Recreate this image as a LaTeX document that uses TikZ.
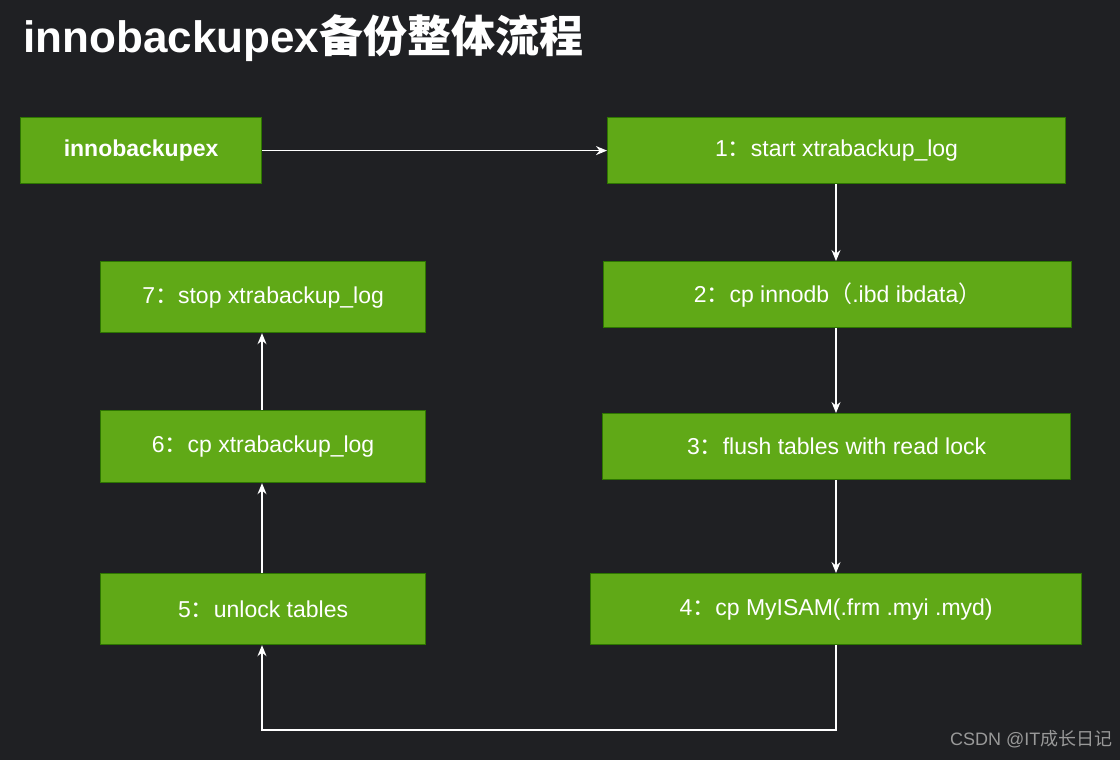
\documentclass[tikz,border=0pt]{standalone}
\usepackage{fontspec}
\setmainfont{Liberation Sans}
\newfontfamily\cjk{Noto Sans CJK SC}
\usetikzlibrary{arrows.meta}
\definecolor{bg}{HTML}{1F2023}
\definecolor{boxfill}{HTML}{60A917}
\definecolor{boxline}{HTML}{2D7600}
\begin{document}
\begin{tikzpicture}[x=1pt,y=-1pt,
  stepbox/.style={draw=boxline,line width=1.2pt,fill=boxfill,text=white,font=\fontsize{23}{27}\selectfont,anchor=north west,inner sep=0pt,align=center},
  conn/.style={draw=white,line width=1.3pt,-{Stealth[length=11pt,width=9pt]}}]
\fill[bg] (0,0) rectangle (1120,760);
\useasboundingbox (0,0) rectangle (1120,760);
\node[anchor=west,text=white,font=\fontsize{44}{50}\selectfont\bfseries] (title) at (20,38) {innobackupex{\cjk 备份整体流程}};
\node[stepbox,minimum width=241pt,minimum height=66pt,font=\fontsize{23}{27}\selectfont\bfseries] (a) at (20,117) {innobackupex};
\node[stepbox,minimum width=458pt,minimum height=66pt] (s1) at (607,117) {1{\cjk ：}start xtrabackup\_log};
\node[stepbox,minimum width=468pt,minimum height=66pt] (s2) at (603,261) {2{\cjk ：}cp innodb{\cjk （}.ibd ibdata{\cjk ）}};
\node[stepbox,minimum width=468pt,minimum height=66pt] (s3) at (602,413) {3{\cjk ：}flush tables with read lock};
\node[stepbox,minimum width=491pt,minimum height=71pt] (s4) at (590,573) {4{\cjk ：}cp MyISAM(.frm .myi .myd)};
\node[stepbox,minimum width=325pt,minimum height=71pt] (s5) at (100,573) {5{\cjk ：}unlock tables};
\node[stepbox,minimum width=325pt,minimum height=72pt] (s6) at (100,410) {6{\cjk ：}cp xtrabackup\_log};
\node[stepbox,minimum width=325pt,minimum height=71pt] (s7) at (100,261) {7{\cjk ：}stop xtrabackup\_log};
\coordinate (c1) at (836,730);
\coordinate (c2) at (262,730);
\draw[conn] (a.east) -- (s1.west);
\draw[conn] (s1.south -| 836,0) -- (s2.north -| 836,0);
\draw[conn] (s2.south -| 836,0) -- (s3.north -| 836,0);
\draw[conn] (s3.south -| 836,0) -- (s4.north -| 836,0);
\draw[conn] (s4.south -| 836,0) -- (c1) -- (c2) -- (s5.south -| 262,0);
\draw[conn] (s5.north -| 262,0) -- (s6.south -| 262,0);
\draw[conn] (s6.north -| 262,0) -- (s7.south -| 262,0);
\node[anchor=east,text=gray!80,font=\fontsize{18}{20}\selectfont] (wm) at (1116,739) {CSDN @IT{\cjk 成长日记}};
\end{tikzpicture}
\end{document}
